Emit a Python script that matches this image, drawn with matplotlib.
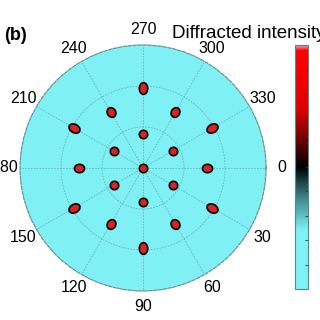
import matplotlib.pyplot as plt
import numpy as np
from matplotlib.colors import LinearSegmentedColormap
from matplotlib.markers import MarkerStyle
from matplotlib.transforms import Affine2D
import matplotlib as mpl

plt.rcParams['font.family'] = ['Liberation Sans', 'DejaVu Sans']

# diffraction spots: angle (deg), radius (ring units, outer edge = 3)
spot_theta = [0, 30, 90, 150, 210, 270, 330,
              0, 60, 120, 180, 240, 300,
              30, 90, 150, 210, 270, 330]
spot_r = [0.0, 0.83, 0.83, 0.83, 0.83, 0.83, 0.83,
          1.57, 1.57, 1.57, 1.57, 1.57, 1.57,
          1.95, 1.95, 1.95, 1.95, 1.95, 1.95]
spot_elong = [1.0] * 7 + [1.2] * 6 + [1.4] * 6

theta_ticks = [0, 30, 60, 90, 120, 150, 180, 210, 240, 270, 300, 330]

bg = '#7ff0f4'
cmap = LinearSegmentedColormap.from_list(
    'diff', [(0.0, bg), (0.24, bg), (0.38, '#3a7f82'), (0.5, '#000000'),
             (0.6, '#600000'), (0.74, '#e00000'), (0.98, '#ff0000'), (1.0, '#f4a0a0')])

fig = plt.figure(figsize=(3.2, 3.2), dpi=100)
ax = fig.add_axes([0.0625, 0.0906, 0.769, 0.769], projection='polar')
ax.set_theta_zero_location('E')
ax.set_theta_direction(-1)
ax.set_facecolor(bg)
ax.set_ylim(0, 3)
ax.set_rticks([1, 2, 3])
ax.set_yticklabels([])
ax.set_xticks(np.deg2rad(theta_ticks))
ax.set_xticklabels([str(t) for t in theta_ticks], fontsize=11.5)
ax.tick_params(axis='x', pad=0.5)
ax.grid(True, color='#6cb2b8', linestyle=(0, (2, 1.5)), linewidth=0.6)
ax.spines['polar'].set_color('#6a8a90')
ax.spines['polar'].set_linestyle((0, (3, 1.5)))
ax.spines['polar'].set_linewidth(0.8)

for t, r, e in zip(spot_theta, spot_r, spot_elong):
    m = MarkerStyle('o', transform=Affine2D().scale(1.0, e).rotate_deg(-t - 90))
    ax.plot(np.deg2rad(t), r, marker=m, markersize=6.0, markerfacecolor='#dc2222',
            markeredgecolor='#101010', markeredgewidth=1.3, linestyle='none')

fig.text(0.012, 0.875, '(b)', fontsize=13, fontweight='bold')
fig.text(0.538, 0.88, 'Diffracted intensity', fontsize=13.5)

cax = fig.add_axes([0.922, 0.097, 0.04, 0.762])
sm = mpl.cm.ScalarMappable(cmap=cmap, norm=mpl.colors.Normalize(0, 1))
cb = fig.colorbar(sm, cax=cax)
cb.set_ticks(np.linspace(0, 1, 11))
cb.ax.tick_params(direction='in', length=2, labelright=False, color='#303030', width=0.6)
cb.outline.set_edgecolor('#4a8a90')

fig.savefig('out.png', dpi=100)
